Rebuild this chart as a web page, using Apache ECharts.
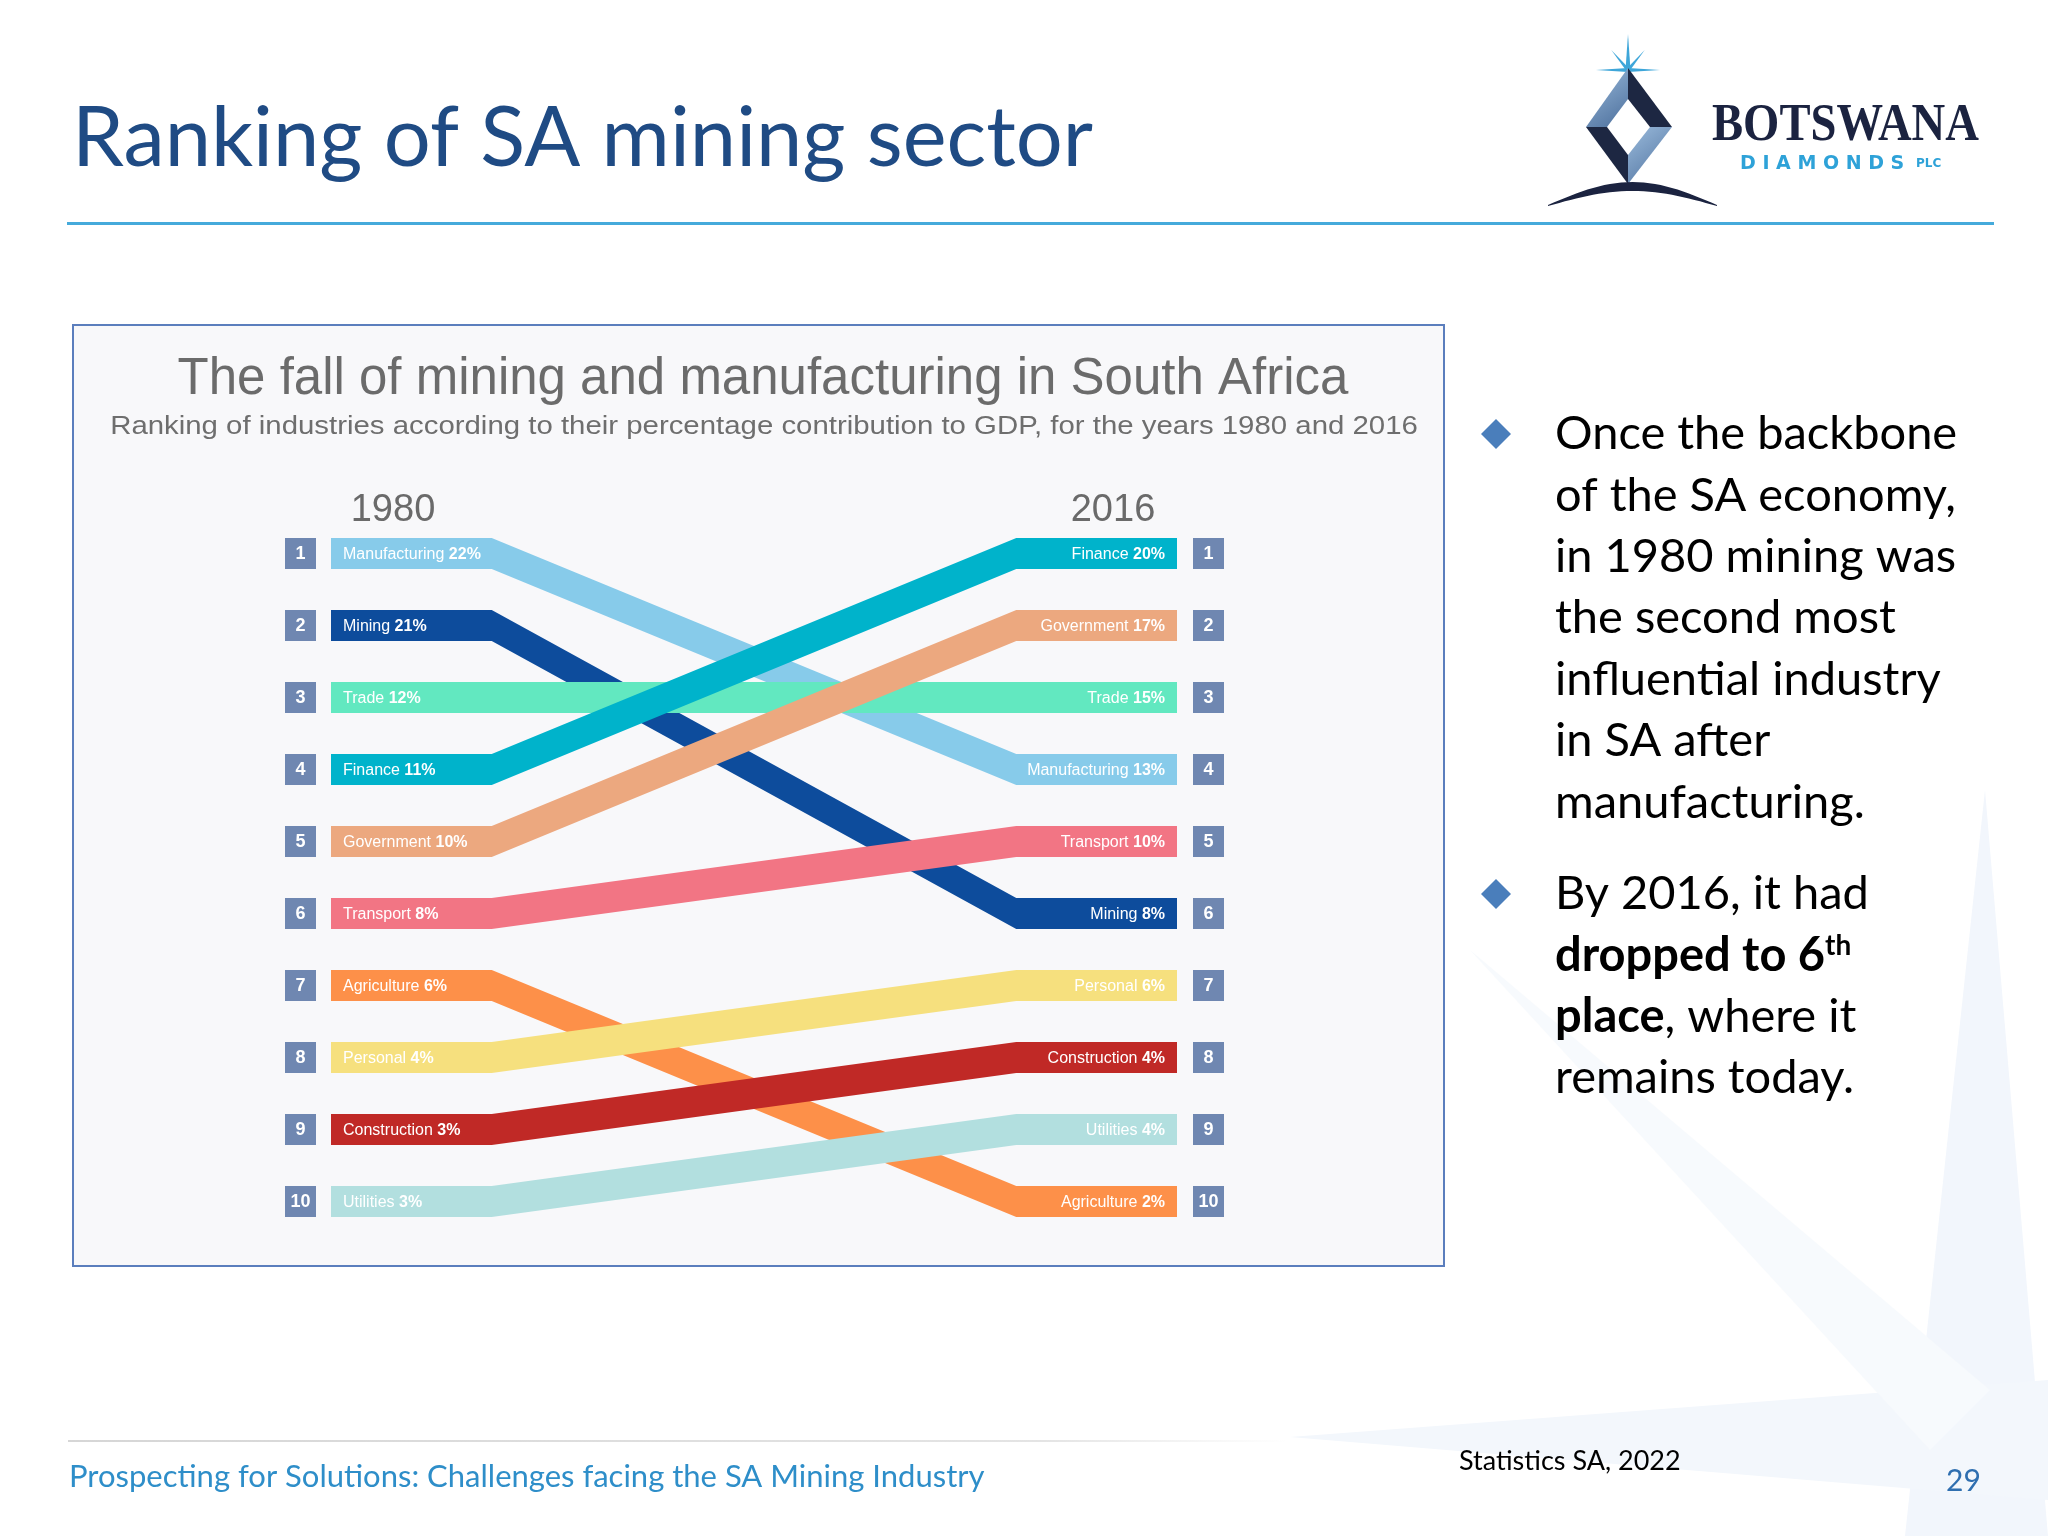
<!DOCTYPE html>
<html>
<head>
<meta charset="utf-8">
<title>Ranking of SA mining sector</title>
<script src="https://cdn.jsdelivr.net/npm/echarts@6/dist/echarts.min.js"></script>
<style>
  html, body { margin: 0; padding: 0; background: #ffffff; }
  #slide { width: 2048px; height: 1536px; }
</style>
</head>
<body>
<div id="slide"></div>
<script>
// industries, listed in their 1980 order
var industries = ['Manufacturing', 'Mining', 'Trade', 'Finance', 'Government',
    'Transport', 'Agriculture', 'Personal', 'Construction', 'Utilities'];
var rank1980 = [1, 2, 3, 4, 5, 6, 7, 8, 9, 10];
var share1980 = [22, 21, 12, 11, 10, 8, 6, 4, 3, 3];
var rank2016 = [4, 6, 3, 1, 2, 5, 10, 7, 8, 9];
var share2016 = [13, 8, 15, 20, 17, 10, 2, 6, 4, 4];
var ranks = [1, 2, 3, 4, 5, 6, 7, 8, 9, 10];
var years = ['1980', '2016'];

var bandColors = ['#87cbea', '#0d4c9c', '#62e8c0', '#00b3cb', '#eca87f',
    '#f27584', '#fd9049', '#f6e07e', '#c02926', '#b2dfdf'];

var SLIDE_FONT = 'Lato, "Open Sans", sans-serif';
var CHART_FONT = '"Liberation Sans", Arial, sans-serif';
var BOX_COLOR = '#6f87b1';
var BAND_H = 31;
// x positions of the band corners: left flat, slope, right flat
var STAGE_X = [0, 19, 81, 100];

function renderBand(params, api) {
    var i = params.dataIndex;
    var from = api.value(0);
    var to = api.value(1);
    var pts = [
        api.coord([STAGE_X[0], from]),
        api.coord([STAGE_X[1], from]),
        api.coord([STAGE_X[2], to]),
        api.coord([STAGE_X[3], to])
    ];
    var half = BAND_H / 2;
    var outline = [];
    pts.forEach(function (p) { outline.push([p[0], p[1] - half]); });
    pts.slice().reverse().forEach(function (p) { outline.push([p[0], p[1] + half]); });
    var rich = {
        n: { fill: '#ffffff', font: '16px ' + CHART_FONT },
        p: { fill: '#ffffff', font: 'bold 16px ' + CHART_FONT }
    };
    var name = industries[i];
    return {
        type: 'group',
        children: [
            { type: 'polygon', shape: { points: outline }, style: { fill: bandColors[i] } },
            {
                type: 'text', x: pts[0][0] + 12, y: pts[0][1] + 1,
                style: {
                    text: '{n|' + name + ' }{p|' + api.value(2) + '%}', rich: rich,
                    textAlign: 'left', textVerticalAlign: 'middle'
                }
            },
            {
                type: 'text', x: pts[3][0] - 12, y: pts[3][1] + 1,
                style: {
                    text: '{n|' + name + ' }{p|' + api.value(3) + '%}', rich: rich,
                    textAlign: 'right', textVerticalAlign: 'middle'
                }
            }
        ]
    };
}

function renderRankBox(params, api) {
    var r = api.value(0);
    var left = api.coord([STAGE_X[0], r]);
    var right = api.coord([STAGE_X[3], r]);
    var numStyle = {
        text: String(r), font: 'bold 18px ' + CHART_FONT, fill: '#ffffff',
        textAlign: 'center', textVerticalAlign: 'middle'
    };
    return {
        type: 'group',
        children: [
            { type: 'rect', shape: { x: left[0] - 46, y: left[1] - 15.5, width: 31, height: 31 }, style: { fill: BOX_COLOR } },
            { type: 'text', x: left[0] - 30.5, y: left[1] + 1, style: numStyle },
            { type: 'rect', shape: { x: right[0] + 16, y: right[1] - 15.5, width: 31, height: 31 }, style: { fill: BOX_COLOR } },
            { type: 'text', x: right[0] + 31.5, y: right[1] + 1, style: Object.assign({}, numStyle) }
        ]
    };
}

// crescent under the logo diamond
function crescent() {
    var top = [], bottom = [];
    for (var k = 0; k <= 30; k++) {
        var t = k / 30;
        var x = 1548 + 169 * t;
        top.push([x, 205 - 23 * Math.sin(Math.PI * t)]);
        bottom.push([x, 206 - 15 * Math.sin(Math.PI * t)]);
    }
    return top.concat(bottom.reverse());
}

function ray(cx, cy, angle, len, w) {
    var a = angle * Math.PI / 180;
    var dx = Math.cos(a), dy = -Math.sin(a);
    return [[cx - dy * w, cy + dx * w], [cx + dx * len, cy + dy * len], [cx + dy * w, cy - dx * w]];
}

var logoStar = [ray(1628, 70, 90, 36, 2.5), ray(1628, 70, 0, 32, 2), ray(1628, 70, 180, 32, 2),
    ray(1628, 70, 50, 26, 1.8), ray(1628, 70, 130, 26, 1.8)];

var O = { t: [1628, 68], r: [1672, 127], b: [1628, 184], l: [1586, 127] };
var I = { t: [1628, 99], r: [1650, 127], b: [1628, 155], l: [1607, 127] };
var lightEdge = new echarts.graphic.LinearGradient(0, 0, 1, 1, [
    { offset: 0, color: '#9bbbdc' }, { offset: 1, color: '#4c6f9c' }]);
var darkEdge = '#1d2742';

var textLines1 = [
    'Once the backbone',
    'of the SA economy,',
    'in 1980 mining was',
    'the second most',
    'influential industry',
    'in SA after',
    'manufacturing.'
];
var textLines2 = [
    'By 2016, it had',
    '{b|dropped to 6}{s|th}',
    '{b|place}, where it',
    'remains today.'
];

var graphic = [];
// faint star watermark
graphic.push({ type: 'polygon', z: -20, shape: { points: [[1985, 790], [2048, 1536], [1905, 1536]] }, style: { fill: '#f2f6fc' } });
graphic.push({ type: 'polygon', z: -20, shape: { points: [[1290, 1437], [2048, 1380], [2048, 1500]] }, style: { fill: '#f3f7fc' } });
graphic.push({ type: 'polygon', z: -20, shape: { points: [[1470, 950], [1990, 1390], [1930, 1450]] }, style: { fill: '#f7fafd' } });

// heading
graphic.push({ type: 'text', x: 72, y: 181, style: { text: 'Ranking of SA mining sector', font: '83px ' + SLIDE_FONT, fill: '#1f4b84', textVerticalAlign: 'bottom' } });
graphic.push({ type: 'rect', shape: { x: 67, y: 222, width: 1927, height: 3 }, style: { fill: '#45aadb' } });

// logo
logoStar.forEach(function (p) {
    graphic.push({ type: 'polygon', shape: { points: p }, style: { fill: '#3ea6d9' } });
});
graphic.push({ type: 'polygon', shape: { points: [O.l, O.t, I.t, I.l] }, style: { fill: lightEdge } });
graphic.push({ type: 'polygon', shape: { points: [O.t, O.r, I.r, I.t] }, style: { fill: darkEdge } });
graphic.push({ type: 'polygon', shape: { points: [O.r, O.b, I.b, I.r] }, style: { fill: lightEdge } });
graphic.push({ type: 'polygon', shape: { points: [O.b, O.l, I.l, I.b] }, style: { fill: darkEdge } });
graphic.push({ type: 'polygon', shape: { points: crescent() }, style: { fill: '#1b2340' } });
graphic.push({ type: 'text', x: 1712, y: 153, scaleX: 0.88, style: { text: 'BOTSWANA', font: 'bold 53px "Liberation Serif", "DejaVu Serif", serif', fill: '#1b2340', textVerticalAlign: 'bottom' } });
graphic.push({ type: 'text', x: 1740, y: 164, style: { text: 'D I A M O N D S', font: 'bold 19px "DejaVu Sans", sans-serif', fill: '#2ea2d8', textVerticalAlign: 'middle' } });
graphic.push({ type: 'text', x: 1916, y: 164, style: { text: 'PLC', font: 'bold 12px "DejaVu Sans", sans-serif', fill: '#2ea2d8', textVerticalAlign: 'middle' } });

// chart frame
graphic.push({ type: 'rect', z: -10, shape: { x: 73, y: 325, width: 1371, height: 941 }, style: { fill: '#f8f8fa', stroke: '#5b7ebd', lineWidth: 2 } });
graphic.push({ type: 'text', x: 763, y: 380, style: { text: 'The fall of mining and manufacturing in South Africa', font: '51px ' + CHART_FONT, fill: '#6b6b6b', textAlign: 'center', textVerticalAlign: 'middle' } });
graphic.push({ type: 'text', x: 764, y: 427, scaleX: 1.13, style: { text: 'Ranking of industries according to their percentage contribution to GDP, for the years 1980 and 2016', font: '26px ' + CHART_FONT, fill: '#6e6e6e', textAlign: 'center', textVerticalAlign: 'middle' } });
graphic.push({ type: 'text', x: 393, y: 511, style: { text: years[0], font: '38px ' + CHART_FONT, fill: '#6a6a6a', textAlign: 'center', textVerticalAlign: 'middle' } });
graphic.push({ type: 'text', x: 1113, y: 511, style: { text: years[1], font: '38px ' + CHART_FONT, fill: '#6a6a6a', textAlign: 'center', textVerticalAlign: 'middle' } });

// bullet text on the right
var bulletRich = {
    b: { font: 'bold 47px ' + SLIDE_FONT, fill: '#000000' },
    s: { font: 'bold 28px ' + SLIDE_FONT, fill: '#000000', verticalAlign: 'top' }
};
function addParagraph(lines, y0) {
    graphic.push({ type: 'polygon', shape: { points: [[1496, y0 - 15], [1511, y0], [1496, y0 + 15], [1481, y0]] }, style: { fill: '#4a7ebb' } });
    lines.forEach(function (line, k) {
        graphic.push({ type: 'text', x: 1555, y: y0 + k * 61.4, style: { text: line, rich: bulletRich, font: '47px ' + SLIDE_FONT, fill: '#000000', textVerticalAlign: 'middle' } });
    });
}
addParagraph(textLines1, 434);
addParagraph(textLines2, 894);

// footer
graphic.push({ type: 'rect', shape: { x: 68, y: 1440, width: 1220, height: 2 }, style: { fill: new echarts.graphic.LinearGradient(0, 0, 1, 0, [{ offset: 0, color: '#d6d6d6' }, { offset: 0.8, color: '#e4e4e4' }, { offset: 1, color: 'rgba(230,230,230,0)' }]) } });
graphic.push({ type: 'text', x: 69, y: 1477, style: { text: 'Prospecting for Solutions: Challenges facing the SA Mining Industry', font: '31px ' + SLIDE_FONT, fill: '#2e8ec9', textVerticalAlign: 'middle' } });
graphic.push({ type: 'text', x: 1459, y: 1461, style: { text: 'Statistics SA, 2022', font: '27px ' + SLIDE_FONT, fill: '#000000', textVerticalAlign: 'middle' } });
graphic.push({ type: 'text', x: 1946, y: 1481, style: { text: '29', font: '30px ' + SLIDE_FONT, fill: '#2f6fb0', textVerticalAlign: 'middle' } });

var bandData = industries.map(function (name, i) {
    return { name: name, value: [rank1980[i], rank2016[i], share1980[i], share2016[i]] };
});

var option = {
    backgroundColor: '#ffffff',
    animation: false,
    grid: { left: 331, right: 871, top: 553.5, bottom: 334.5 },
    xAxis: { type: 'value', min: 0, max: 100, show: false },
    yAxis: { type: 'value', min: 1, max: 10, inverse: true, show: false },
    graphic: graphic,
    series: [
        {
            type: 'custom',
            name: 'ranks',
            clip: false,
            silent: true,
            encode: { x: -1, y: 0 },
            data: ranks.map(function (r) { return [r]; }),
            renderItem: renderRankBox
        },
        {
            type: 'custom',
            name: 'industries',
            clip: false,
            silent: true,
            encode: { x: -1, y: [0, 1] },
            data: bandData,
            renderItem: renderBand
        }
    ]
};

var chart = echarts.init(document.getElementById('slide'));
chart.setOption(option);
</script>
</body>
</html>
